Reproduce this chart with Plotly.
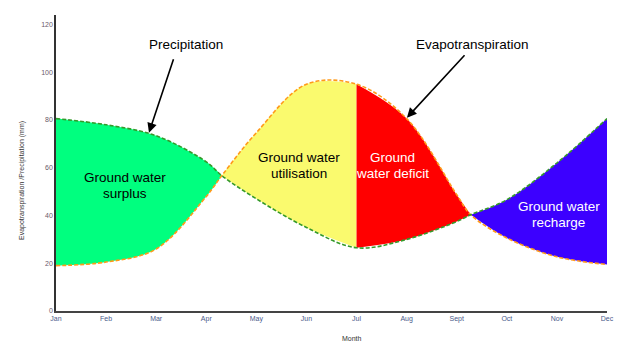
import plotly.graph_objects as go

# ---- data ----
months = ["Jan", "Feb", "Mar", "Apr", "May", "Jun", "Jul", "Aug", "Sept", "Oct", "Nov", "Dec"]
month_pos = list(range(12))
precipitation = [80.6, 78.0, 73.4, 62.5, 47.0, 35.0, 26.5, 30.0, 37.5, 46.6, 62.0, 80.6]
evapotranspiration = [19.0, 20.5, 26.0, 48.0, 74.7, 95.0, 95.0, 80.6, 48.7, 30.6, 22.7, 19.5]
crossing_pos = [3.31, 8.28]
crossing_val = [56.7, 40.3]
region_bounds = [(0, 3.31), (3.31, 6), (6, 8.28), (8.28, 11)]
region_colors = ["#00ff7f", "#fafa6e", "#ff0000", "#3c00ff"]
region_labels = [["Ground water", "surplus"], ["Ground water", "utilisation"],
                 ["Ground", "water deficit"], ["Ground water", "recharge"]]
y_ticks = [0, 20, 40, 60, 80, 100, 120]

# combined series (months + crossing points)
pts = sorted(
    [(m, p, e) for m, p, e in zip(month_pos, precipitation, evapotranspiration)]
    + [(c, v, v) for c, v in zip(crossing_pos, crossing_val)]
)
xs = [p[0] for p in pts]
ps = [p[1] for p in pts]
es = [p[2] for p in pts]

fig = go.Figure()

for (a, b), col in zip(region_bounds, region_colors):
    idx = [i for i, x in enumerate(xs) if a - 1e-9 <= x <= b + 1e-9]
    fig.add_trace(go.Scatter(x=[xs[i] for i in idx], y=[es[i] for i in idx],
                             mode="lines", line=dict(width=0, shape="spline"),
                             hoverinfo="skip", showlegend=False))
    fig.add_trace(go.Scatter(x=[xs[i] for i in idx], y=[ps[i] for i in idx],
                             mode="lines", line=dict(width=0, shape="spline"),
                             fill="tonexty", fillcolor=col,
                             hoverinfo="skip", showlegend=False))

fig.add_trace(go.Scatter(x=xs, y=es, mode="lines", name="Evapotranspiration",
                         line=dict(color="#ff9a1a", width=1.6, dash="4px,2px", shape="spline"),
                         showlegend=False))
fig.add_trace(go.Scatter(x=xs, y=ps, mode="lines", name="Precipitation",
                         line=dict(color="#359a2a", width=1.6, dash="4px,2px", shape="spline"),
                         showlegend=False))

PX = 50.1    # pixels per month
PY = 2.383   # pixels per mm


def dx(px):
    return (px - 56) / PX


def dy(py):
    return (311 - py) / PY


label_pos = [(125.5, 186), (299, 166), (393, 166), (559, 215)]
label_colors = ["black", "black", "white", "white"]
anns = []
for lines, (x, y), c in zip(region_labels, label_pos, label_colors):
    for k, line in enumerate(lines):
        anns.append(dict(x=dx(x), y=dy(y), yshift=8 - 16 * k, text=line, showarrow=False,
                         xanchor="center", yanchor="middle",
                         font=dict(size=13.5, color=c)))

# arrows + captions
anns.append(dict(x=dx(149), y=dy(133), ax=25, ay=-75, text="", showarrow=True,
                 arrowhead=2, arrowsize=1.2, arrowwidth=1.6, arrowcolor="black"))
anns.append(dict(x=dx(407), y=dy(118), ax=59, ay=-64, text="", showarrow=True,
                 arrowhead=2, arrowsize=1.2, arrowwidth=1.6, arrowcolor="black"))
anns.append(dict(x=dx(186.5), y=dy(44.5), text="Precipitation", xanchor="center",
                 yanchor="middle", showarrow=False, font=dict(size=13.5, color="black")))
anns.append(dict(x=dx(473), y=dy(44.5), text="Evapotranspiration", xanchor="center",
                 yanchor="middle", showarrow=False, font=dict(size=13.5, color="black")))
# axis titles
anns.append(dict(xref="paper", yref="paper", x=(22 - 56) / 551, y=(311 - 181) / 296,
                 xanchor="center", yanchor="middle",
                 text="Evapotranspiration /Precipitation (mm)", textangle=-90,
                 showarrow=False, font=dict(size=7, color="#333")))
anns.append(dict(xref="paper", yref="paper", x=(352 - 56) / 551, y=(311 - 338) / 296,
                 xanchor="center", yanchor="middle",
                 text="Month", showarrow=False, font=dict(size=7, color="#333")))

fig.update_layout(
    width=631, height=354,
    margin=dict(l=56, r=24, t=15, b=43),
    paper_bgcolor="white", plot_bgcolor="white",
    font=dict(family="Arial, Liberation Sans, sans-serif"),
    annotations=anns,
    xaxis=dict(range=[0, 11], tickvals=month_pos, ticktext=months, showgrid=False,
               zeroline=False, showline=True, linecolor="#444", linewidth=2,
               ticks="", tickfont=dict(size=7, color="#4a5a8a")),
    yaxis=dict(range=[0, 124], tickvals=y_ticks, showgrid=False, zeroline=False,
               showline=True, linecolor="#333", linewidth=1.5, ticks="",
               tickfont=dict(size=7, color="#6a5a6a")),
)

fig.write_html("out.html")
